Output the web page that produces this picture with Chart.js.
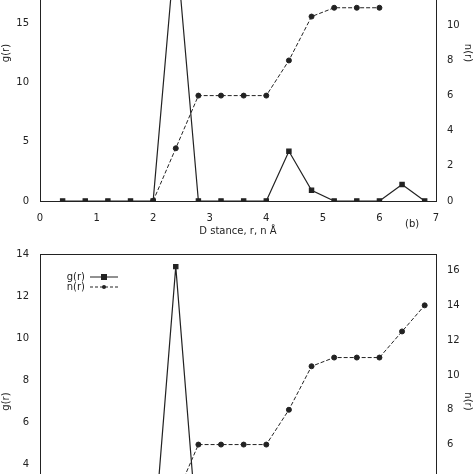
<!DOCTYPE html>
<html><head><meta charset="utf-8">
<script src="https://cdn.jsdelivr.net/npm/chart.js@4"></script>
<style>
body{margin:0;width:474px;height:474px;overflow:hidden;position:relative;background:#fff;font-family:"DejaVu Sans",sans-serif}
.c{position:absolute;left:0}
#lb{position:absolute;left:405px;top:218px;font-size:10px;color:#222}
</style></head><body>
<div class="c" style="top:-104px;width:474px;height:341px"><canvas id="top"></canvas></div>
<div class="c" style="top:245px;width:474px;height:340px"><canvas id="bot"></canvas></div>
<div id="lb">(b)</div>
<script>
const rG = [0.4, 0.8, 1.2, 1.6, 2.0, 2.4, 2.8, 3.2, 3.6, 4.0, 4.4, 4.8, 5.2, 5.6, 6.0, 6.4, 6.8]
const gTop = [0, 0, 0, 0, 0, 22, 0, 0, 0, 0, 4.2, 0.9, 0, 0, 0, 1.4, 0]
const rNTop = [2.0, 2.4, 2.8, 3.2, 3.6, 4.0, 4.4, 4.8, 5.2, 5.6, 6.0]
const nTop = [0, 3, 6, 6, 6, 6, 8, 10.5, 11, 11, 11]
const gBot = [0, 0, 0, 0, 0, 13.4, 0, 0, 0, 0, 2.6, 0.6, 0, 0, 0, 1.0, 0]
const rNBot = [2.0, 2.4, 2.8, 3.2, 3.6, 4.0, 4.4, 4.8, 5.2, 5.6, 6.0, 6.4, 6.8]
const nBot = [0, 3, 6, 6, 6, 6, 8, 10.5, 11, 11, 11, 12.5, 14]
const legendLabels = ['g(r)', 'n(r)']

const font = { family: 'DejaVu Sans', size: 10 }
const ink = '#222'

function pts(xs, ys) { return xs.map((x, i) => ({ x, y: ys[i] })) }

const legendPlugin = {
  id: 'lgd',
  afterDraw(chart) {
    if (!chart.options.plugins.lgd.show) return
    const c = chart.ctx
    c.save()
    c.font = '10px DejaVu Sans'; c.fillStyle = ink; c.strokeStyle = ink; c.lineWidth = 1
    c.textAlign = 'right'; c.textBaseline = 'middle'
    legendLabels.forEach((t, i) => {
      const y = 32 + i * 10
      c.fillText(t, 85, y)
      c.setLineDash(i ? [3, 2] : [])
      c.beginPath(); c.moveTo(90, y); c.lineTo(118, y); c.stroke()
      c.setLineDash([])
      if (i) { c.beginPath(); c.arc(104, y, 2, 0, 7); c.fill() } else c.fillRect(101, y - 3, 6, 6)
    })
    c.restore()
  }
}

function make(id, g, rn, n, lmax, lstep, rmax, xTitle, legend) {
  return new Chart(document.getElementById(id), {
    type: 'line',
    data: { datasets: [
      { data: pts(rG, g), borderColor: ink, backgroundColor: ink, borderWidth: 1.2, pointStyle: 'rect', pointRadius: 3, yAxisID: 'y' },
      { data: pts(rn, n), borderColor: ink, backgroundColor: ink, borderWidth: 1, borderDash: [4, 2], pointRadius: 2.5, yAxisID: 'y1' },
    ] },
    options: {
      responsive: true, maintainAspectRatio: false, animation: false,
      layout: { padding: 0 },
      plugins: { legend: { display: false }, tooltip: { enabled: false }, lgd: { show: legend } },
      scales: {
        x: { type: 'linear', min: 0, max: 7, ticks: { stepSize: 1, font, color: ink },
             grid: { display: false }, border: { color: ink },
             title: { display: !!xTitle, text: xTitle, font, color: ink, padding: 0 },
             afterFit: s => { s.height = 36 } },
        xt: { type: 'linear', position: 'top', min: 0, max: 7, ticks: { display: false },
              grid: { display: false }, border: { color: ink }, afterFit: s => { s.height = 0 } },
        y: { min: 0, max: lmax, ticks: { stepSize: lstep, font, color: ink },
             grid: { display: false }, border: { color: ink },
             title: { display: true, text: 'g(r)', font, color: ink, padding: 0 },
             afterFit: s => { s.width = 40 } },
        y1: { position: 'right', min: 0, max: rmax,
              ticks: { stepSize: 2, font, color: ink, callback: v => (v % 2 === 0 ? v : '') },
              grid: { display: false }, border: { color: ink },
              title: { display: true, text: 'n(r)', font, color: ink, padding: 0 },
              afterFit: s => { s.width = 38 } },
      },
    },
    plugins: [legendPlugin],
  })
}

make('top', gTop, rNTop, nTop, 25, 5, 16.85, 'D stance, r, n Å', false)
make('bot', gBot, rNBot, nBot, 14, 2, 16.95, '', true)
</script>
</body></html>
